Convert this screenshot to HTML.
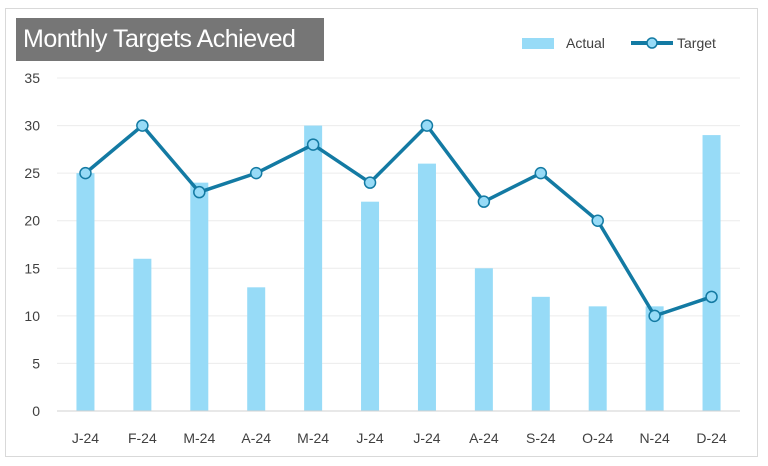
<!DOCTYPE html>
<html><head><meta charset="utf-8"><style>
body{margin:0;background:#fff;font-family:"Liberation Sans",sans-serif}
#wrap{position:relative;width:768px;height:466px;overflow:hidden}
#frame{position:absolute;left:5px;top:8px;width:753px;height:449px;border:1px solid #d9d9d9;box-sizing:border-box}
#title{position:absolute;left:16px;top:18px;width:308px;height:43px;background:#767676;color:#fff;font-size:25px;line-height:43px;padding-left:7px;box-sizing:border-box;letter-spacing:-0.5px}
</style></head><body>
<div id="wrap">
<div id="frame"></div>
<div id="title">Monthly Targets Achieved</div>
<svg id="svg" width="768" height="466" style="position:absolute;left:0;top:0">
<g>
<rect x="522" y="38" width="32" height="11" fill="#97dbf7"/>
<text x="566" y="48" font-size="14" fill="#404040">Actual</text>
<line x1="631" y1="43" x2="673" y2="43" stroke="#137aa3" stroke-width="4"/>
<circle cx="652" cy="43" r="5" fill="#97dbf7" stroke="#137aa3" stroke-width="1.5"/>
<text x="677" y="48" font-size="14" fill="#404040">Target</text>
</g>
</svg>
</div>
<script>
const categories=["J-24","F-24","M-24","A-24","M-24","J-24","J-24","A-24","S-24","O-24","N-24","D-24"];
const actual=[25,16,24,13,30,22,26,15,12,11,11,29];
const target=[25,30,23,25,28,24,30,22,25,20,10,12];
const yTicks=[0,5,10,15,20,25,30,35];
const svg=document.getElementById('svg');
const NS='http://www.w3.org/2000/svg';
const x0=57,x1=740,y0=411,yTop=78,yMax=35;
const bw=(x1-x0)/categories.length;
const xs=i=>x0+bw*(i+0.5);
const ys=v=>y0-(v/yMax)*(y0-yTop);
function mk(t,a){const e=document.createElementNS(NS,t);for(const k in a)e.setAttribute(k,a[k]);svg.appendChild(e);return e;}
yTicks.forEach(v=>{
 if(v>0){const g=mk('line',{x1:x0,x2:x1,y1:ys(v),y2:ys(v),stroke:'#ececec','stroke-width':1});
 
 }
 const t=mk('text',{x:40,y:ys(v)+5,'font-size':14,fill:'#404040','text-anchor':'end'});t.textContent=v;
 
 
});
actual.forEach((v,i)=>{
 const r=mk('rect',{x:xs(i)-9,y:ys(v),width:18,height:y0-ys(v),fill:'#97dbf7'});
 
 
});
const ax=mk('line',{x1:x0,x2:x1,y1:y0,y2:y0,stroke:'#d0d0d0','stroke-width':1});


categories.forEach((c,i)=>{
 const t=mk('text',{x:xs(i),y:443,'font-size':14,fill:'#404040','text-anchor':'middle'});t.textContent=c;
 
 
});
const p=mk('polyline',{points:target.map((v,i)=>xs(i)+','+ys(v)).join(' '),fill:'none',stroke:'#137aa3','stroke-width':3.5,'stroke-linejoin':'round'});


target.forEach((v,i)=>{
 const c=mk('circle',{cx:xs(i),cy:ys(v),r:5.5,fill:'#97dbf7',stroke:'#137aa3','stroke-width':1.5});
 
 
});
</script>
</body></html>
